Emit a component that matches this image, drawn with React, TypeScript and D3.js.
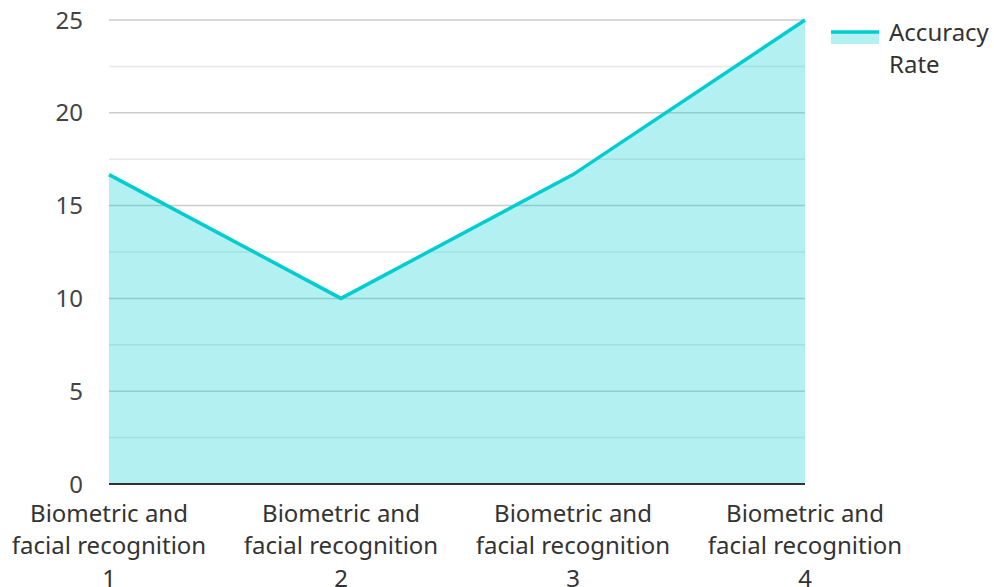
import React, { useEffect, useRef } from 'react';
import * as d3 from 'd3';

const categories = [
  'Biometric and|facial recognition|1',
  'Biometric and|facial recognition|2',
  'Biometric and|facial recognition|3',
  'Biometric and|facial recognition|4',
];
const accuracyRate = [16.67, 10, 16.67, 25];
const yTicks = [0, 5, 10, 15, 20, 25];
const yMinorTicks = [2.5, 7.5, 12.5, 17.5, 22.5];
const seriesName = ['Accuracy', 'Rate'];

const WIDTH = 994;
const HEIGHT = 587;
const LINE_COLOR = '#00cdd0';
const FONT = "'Noto Sans', sans-serif";
const FONT_SIZE = 24;

const App = () => {
  const svgRef = useRef<SVGSVGElement | null>(null);

  useEffect(() => {
    const svg = d3.select(svgRef.current);
    svg.selectAll('*').remove();

    const margin = { top: 20, right: 189, bottom: 103, left: 109 };
    const width = WIDTH - margin.left - margin.right;
    const height = HEIGHT - margin.top - margin.bottom;

    const g = svg.append('g').attr('transform', `translate(${margin.left},${margin.top})`);

    const x = d3.scalePoint<number>()
      .domain(d3.range(categories.length))
      .range([0, width]);

    const y = d3.scaleLinear().domain([0, 25]).range([height, 0]);

    // minor grid
    g.append('g')
      .selectAll('line')
      .data(yMinorTicks)
      .join('line')
      .attr('x1', 0)
      .attr('x2', width)
      .attr('y1', d => y(d))
      .attr('y2', d => y(d))
      .attr('stroke', '#e8e8e8')
      .attr('stroke-width', 1.5);

    // major grid
    g.append('g')
      .selectAll('line')
      .data(yTicks.filter(d => d > 0))
      .join('line')
      .attr('x1', 0)
      .attr('x2', width)
      .attr('y1', d => y(d))
      .attr('y2', d => y(d))
      .attr('stroke', '#cccccc')
      .attr('stroke-width', 1.5);

    // y labels
    g.append('g')
      .selectAll('text')
      .data(yTicks)
      .join('text')
      .attr('x', -26)
      .attr('y', d => y(d))
      .attr('dy', '0.36em')
      .attr('text-anchor', 'end')
      .attr('font-family', FONT)
      .attr('font-size', FONT_SIZE)
      .attr('fill', '#444')
      .text(d => d);

    const area = d3.area<number>()
      .x((d, i) => x(i)!)
      .y0(height)
      .y1(d => y(d));

    const line = d3.line<number>()
      .x((d, i) => x(i)!)
      .y(d => y(d));

    g.append('path')
      .datum(accuracyRate)
      .attr('fill', LINE_COLOR)
      .attr('fill-opacity', 0.3)
      .attr('d', area);

    g.append('path')
      .datum(accuracyRate)
      .attr('fill', 'none')
      .attr('stroke', LINE_COLOR)
      .attr('stroke-width', 3.5)
      .attr('d', line);

    // x axis line
    g.append('line')
      .attr('x1', 0)
      .attr('x2', width)
      .attr('y1', height)
      .attr('y2', height)
      .attr('stroke', '#333')
      .attr('stroke-width', 2);

    // x labels
    const xl = g.append('g')
      .selectAll('text')
      .data(categories)
      .join('text')
      .attr('transform', (d, i) => `translate(${x(i)},${height + 37.5})`)
      .attr('text-anchor', 'middle')
      .attr('font-family', FONT)
      .attr('font-size', FONT_SIZE)
      .attr('fill', '#333');

    xl.selectAll('tspan')
      .data(d => d.split('|'))
      .join('tspan')
      .attr('x', 0)
      .attr('y', (d, i) => i * 32.5)
      .text(d => d);

    // legend
    const lg = svg.append('g').attr('transform', `translate(${margin.left + width + 26},0)`);
    lg.append('rect')
      .attr('x', 0)
      .attr('y', 33)
      .attr('width', 48)
      .attr('height', 11)
      .attr('fill', LINE_COLOR)
      .attr('fill-opacity', 0.3);
    lg.append('line')
      .attr('x1', 0)
      .attr('x2', 48)
      .attr('y1', 32)
      .attr('y2', 32)
      .attr('stroke', LINE_COLOR)
      .attr('stroke-width', 3.5);
    lg.append('text')
      .attr('font-family', FONT)
      .attr('font-size', FONT_SIZE)
      .attr('fill', '#333')
      .selectAll('tspan')
      .data(seriesName)
      .join('tspan')
      .attr('x', 58)
      .attr('y', (d, i) => 40.5 + i * 32)
      .text(d => d);
  }, []);

  return (
    <svg
      ref={svgRef}
      width={WIDTH}
      height={HEIGHT}
      style={{ position: 'absolute', left: 0, top: 0, background: '#fff' }}
    />
  );
};

export default App;
